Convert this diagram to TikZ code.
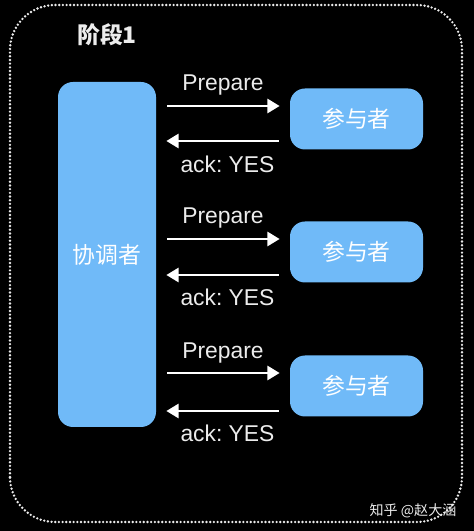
\documentclass[tikz,border=0pt]{standalone}
\usepackage{fontspec}
\setmainfont{Liberation Sans}
\newfontfamily\cjk{Noto Sans CJK SC}
\usetikzlibrary{arrows.meta}
\frenchspacing
\definecolor{boxblue}{RGB}{112,186,248}
\definecolor{txtgray}{RGB}{236,236,236}
\tikzset{
    rolebox/.style={fill=boxblue, rounded corners=0.3cm, text=white, font=\cjk\fontsize{13}{15}\selectfont},
    msg/.style={draw=white, line width=1.6pt, -{Triangle[length=7pt,width=8pt]}, shorten <=0.22cm, shorten >=0.2cm},
    msglabel/.style={text=txtgray, font=\fontsize{13}{15}\selectfont}
}
\begin{document}
\begin{tikzpicture}
                    \fill[black] (0,0) rectangle (9.48,10.62);
                    \useasboundingbox (0,0) rectangle (9.48,10.62);
                    \draw[txtgray, line width=1.5pt, line cap=round, dash pattern=on 0pt off 2.1pt, rounded corners=0.9cm] (0.2,0.18) rectangle (9.24,10.52);
                    \node[text=txtgray, font=\cjk\bfseries\fontsize{13}{15}\selectfont] (title) at (2.14,9.92) {阶段1};
                    \node[rolebox, minimum width=1.96cm, minimum height=6.9cm] (coord) at (2.14,5.53) {协调者};
                    \node[rolebox, minimum width=2.66cm, minimum height=1.22cm] (p1) at (7.13,8.24) {参与者};
                    \node[rolebox, minimum width=2.66cm, minimum height=1.22cm] (p2) at (7.13,5.58) {参与者};
                    \node[rolebox, minimum width=2.66cm, minimum height=1.22cm] (p3) at (7.13,2.90) {参与者};
                    \coordinate (p1in) at ([yshift=0.26cm]p1.west);
                    \coordinate (p1out) at ([yshift=-0.44cm]p1.west);
                    \coordinate (p2in) at ([yshift=0.26cm]p2.west);
                    \coordinate (p2out) at ([yshift=-0.46cm]p2.west);
                    \coordinate (p3in) at ([yshift=0.26cm]p3.west);
                    \coordinate (p3out) at ([yshift=-0.50cm]p3.west);
                    \draw[msg] (coord.east |- p1in) -- (p1in) node[msglabel, midway, yshift=0.42cm] (prep1) {Prepare};
                    \draw[msg] (p1out) -- (coord.east |- p1out) node[msglabel, midway, xshift=0.09cm, yshift=-0.46cm] (ack1) {ack: YES};
                    \draw[msg] (coord.east |- p2in) -- (p2in) node[msglabel, midway, yshift=0.42cm] (prep2) {Prepare};
                    \draw[msg] (p2out) -- (coord.east |- p2out) node[msglabel, midway, xshift=0.09cm, yshift=-0.44cm] (ack2) {ack: YES};
                    \draw[msg] (coord.east |- p3in) -- (p3in) node[msglabel, midway, yshift=0.40cm] (prep3) {Prepare};
                    \draw[msg] (p3out) -- (coord.east |- p3out) node[msglabel, midway, xshift=0.09cm, yshift=-0.44cm] (ack3) {ack: YES};
                    \node[text=txtgray, font=\cjk\fontsize{8}{10}\selectfont] (mark) at (8.26,0.40) {知乎 @赵大涵};
                \end{tikzpicture}
\end{document}
